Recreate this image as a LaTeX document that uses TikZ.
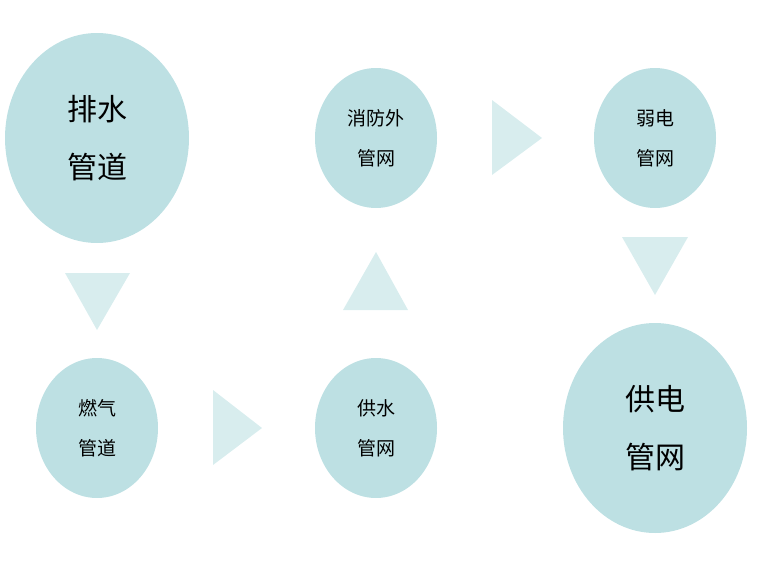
\documentclass[tikz,border=0pt]{standalone}
\usepackage{fontspec}
\newfontfamily\cjk{Noto Sans CJK SC}
\usetikzlibrary{shapes.geometric}
\definecolor{bubble}{HTML}{BDE0E3}
\definecolor{pointer}{HTML}{D8EDEE}
\tikzset{
  big/.style = {fill = bubble, shape = ellipse, minimum width = 184pt, minimum height = 210pt, inner sep = 0pt, align = center, font = \cjk\fontsize{30}{58}\selectfont},
  small/.style = {fill = bubble, shape = ellipse, minimum width = 122pt, minimum height = 140pt, inner sep = 0pt, align = center, font = \cjk\fontsize{19}{40}\selectfont}
}
\begin{document}
\begin{tikzpicture}[x=1pt, y=-1pt]
\useasboundingbox (0,0) rectangle (760,570);
\node[big]   (drain) at (97,138)  {排水\\管道};
\node[small] (gas)   at (97,428)  {燃气\\管道};
\node[small] (water) at (376,428) {供水\\管网};
\node[small] (fire)  at (376,138) {消防外\\管网};
\node[small] (weak)  at (655,138) {弱电\\管网};
\node[big]   (power) at (655,428) {供电\\管网};
% pointers between the bubbles
\fill[pointer] (65,273) -- (130,273) -- (97,330) -- cycle;
\fill[pointer] (213,390) -- (262,428) -- (213,465) -- cycle;
\fill[pointer] (343,310) -- (408,310) -- (376,252) -- cycle;
\fill[pointer] (492,100) -- (542,138) -- (492,175) -- cycle;
\fill[pointer] (622,237) -- (688,237) -- (655,295) -- cycle;
\end{tikzpicture}
\end{document}
